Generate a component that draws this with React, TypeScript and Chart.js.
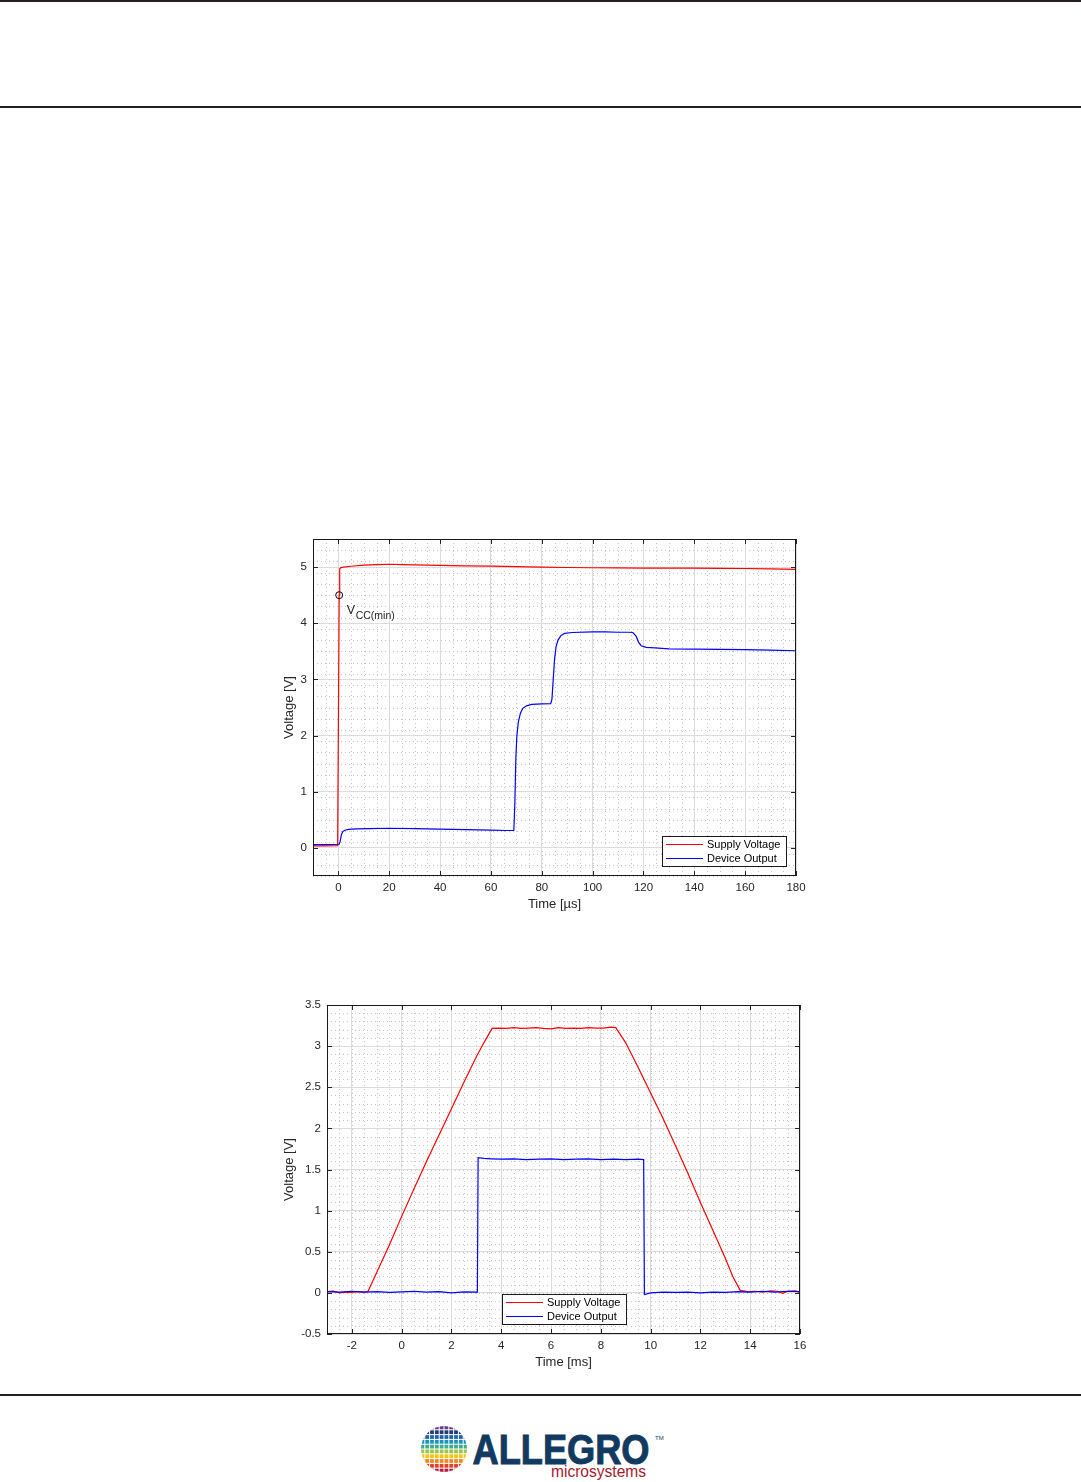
import React, { useEffect, useRef } from 'react';
import { Chart, registerables } from 'chart.js';

Chart.register(...registerables);

const FONT = '"Liberation Sans", Arial, Helvetica, sans-serif';
const INK = '#262626';
const RED = '#ff0000';
const BLUE = '#0000ff';

const SERIES_LABELS = ['Supply Voltage', 'Device Output'];

// ---------- Chart 1: power-on, time in µs ----------
const T1_SUPPLY = [-10, -5, -0.3, 0.1, 0.3, 0.5, 1, 2, 5, 10, 15, 20, 25, 30, 40, 50, 60, 70, 80, 90, 100, 110, 120, 130, 140, 150, 160, 170, 180];
const V1_SUPPLY = [0.035, 0.035, 0.04, 3.0, 4.5, 4.97, 4.99, 5.0, 5.015, 5.035, 5.045, 5.05, 5.045, 5.04, 5.03, 5.022, 5.017, 5.008, 5.0, 4.993, 4.988, 4.985, 4.982, 4.981, 4.98, 4.977, 4.975, 4.968, 4.958];
const T1_OUTPUT = [-10, -5, 0.3, 0.7, 1.2, 1.7, 2.5, 4, 7, 12, 20, 30, 40, 50, 60, 66, 69.0, 69.4, 69.8, 70.2, 70.8, 71.6, 72.6, 74, 76, 80, 83.5, 84.0, 84.5, 85.0, 85.6, 86.4, 87.5, 89, 92, 100, 105, 110, 114, 115.8, 117.1, 118.1, 119.1, 121.1, 124.5, 130, 140, 150, 160, 170, 180];
const V1_OUTPUT = [0.06, 0.06, 0.065, 0.12, 0.24, 0.29, 0.315, 0.33, 0.34, 0.345, 0.35, 0.345, 0.335, 0.325, 0.315, 0.31, 0.31, 0.8, 1.6, 2.0, 2.25, 2.4, 2.49, 2.53, 2.555, 2.565, 2.57, 2.65, 3.0, 3.35, 3.58, 3.7, 3.78, 3.82, 3.835, 3.845, 3.845, 3.84, 3.84, 3.835, 3.77, 3.66, 3.6, 3.57, 3.56, 3.545, 3.54, 3.535, 3.53, 3.52, 3.51];
const X1_TICKS = [0, 20, 40, 60, 80, 100, 120, 140, 160, 180];
const Y1_TICKS = [0, 1, 2, 3, 4, 5];
const VCC_MIN_T = [0.3];
const VCC_MIN_V = [4.5];

// ---------- Chart 2: slow ramp, time in ms ----------
const T2_SUPPLY = [-3, -2.75, -2.5, -2.25, -2.0, -1.75, -1.5, -1.35, -1.0, -0.5, 0, 0.5, 1, 1.5, 2, 2.5, 3, 3.3, 3.63, 3.9, 4.2, 4.5, 4.8, 5.1, 5.4, 5.7, 6.0, 6.3, 6.6, 6.9, 7.2, 7.5, 7.8, 8.1, 8.4, 8.6, 9.0, 9.5, 10, 10.5, 11, 11.5, 12, 12.5, 13, 13.3, 13.6, 13.9, 14.2, 14.5, 14.8, 15.1, 15.3, 15.5, 15.8, 16];
const V2_SUPPLY = [0.015, 0.02, 0.0, 0.01, 0.005, 0.015, 0.01, 0.02, 0.25, 0.58, 0.93, 1.27, 1.6, 1.92, 2.24, 2.56, 2.87, 3.04, 3.215, 3.22, 3.215, 3.225, 3.215, 3.22, 3.225, 3.215, 3.21, 3.225, 3.215, 3.22, 3.215, 3.225, 3.22, 3.22, 3.23, 3.225, 3.04, 2.74, 2.43, 2.12, 1.79, 1.45, 1.1, 0.76, 0.42, 0.2, 0.03, 0.015, 0.02, 0.01, 0.025, 0.02, -0.005, 0.02, 0.025, 0.01];
const T2_OUTPUT = [-3, -2.5, -2, -1.5, -1, -0.5, 0, 0.5, 1, 1.5, 2, 2.5, 3.04, 3.07, 3.3, 3.6, 4, 4.5, 5, 5.5, 6, 6.5, 7, 7.5, 8, 8.5, 9, 9.5, 9.72, 9.75, 10, 10.5, 11, 11.5, 12, 12.5, 13, 13.5, 14, 14.5, 15, 15.5, 16];
const V2_OUTPUT = [0.015, 0.01, 0.02, 0.01, 0.015, 0.005, 0.012, 0.02, 0.008, 0.015, 0.0, 0.012, 0.01, 1.645, 1.635, 1.63, 1.625, 1.63, 1.62, 1.625, 1.63, 1.62, 1.625, 1.63, 1.62, 1.625, 1.62, 1.625, 1.62, -0.02, 0.0, 0.01, 0.005, 0.01, 0.0, 0.01, 0.005, 0.015, 0.01, 0.02, 0.01, 0.02, 0.015];
const X2_TICKS = [-2, 0, 2, 4, 6, 8, 10, 12, 14, 16];
const Y2_TICKS = [-0.5, 0, 0.5, 1, 1.5, 2, 2.5, 3, 3.5];

const pts = (t: number[], v: number[]) => t.map((x, i) => ({ x, y: v[i] }));

const framePlugin = {
  id: 'matFrame',
  beforeDraw(chart: any, _args: any, o: any) {
    const { ctx, chartArea: a } = chart;
    const xs = chart.scales.x;
    const ys = chart.scales.y;
    ctx.save();
    ctx.strokeStyle = '#c4c4c4';
    ctx.lineWidth = 1;
    ctx.setLineDash([1, 3]);
    ctx.beginPath();
    for (let k = 0; ; k++) {
      const v = xs.min + k * o.xMinor;
      if (v > xs.max + 1e-9) break;
      const p = Math.round(xs.getPixelForValue(v)) + 0.5;
      ctx.moveTo(p, a.top);
      ctx.lineTo(p, a.bottom);
    }
    for (let k = 0; ; k++) {
      const v = ys.min + k * o.yMinor;
      if (v > ys.max + 1e-9) break;
      const p = Math.round(ys.getPixelForValue(v)) + 0.5;
      ctx.moveTo(a.left, p);
      ctx.lineTo(a.right, p);
    }
    ctx.stroke();
    ctx.restore();
  },
  afterDraw(chart: any, _args: any, o: any) {
    const { ctx, chartArea: a } = chart;
    const xs = chart.scales.x;
    const ys = chart.scales.y;
    const L = o.tickLen;
    ctx.save();
    ctx.setLineDash([]);
    // inner tick marks
    ctx.strokeStyle = INK;
    ctx.lineWidth = 1;
    ctx.beginPath();
    xs.ticks.forEach((t: any) => {
      const p = Math.round(xs.getPixelForValue(t.value)) + 0.5;
      ctx.moveTo(p, a.bottom);
      ctx.lineTo(p, a.bottom - L);
      ctx.moveTo(p, a.top);
      ctx.lineTo(p, a.top + L);
    });
    ys.ticks.forEach((t: any) => {
      const p = Math.round(ys.getPixelForValue(t.value)) + 0.5;
      ctx.moveTo(a.left, p);
      ctx.lineTo(a.left + L, p);
      ctx.moveTo(a.right, p);
      ctx.lineTo(a.right - L, p);
    });
    ctx.stroke();
    // box
    const l = Math.round(a.left) + 0.5;
    const t = Math.round(a.top) + 0.5;
    const r = Math.round(a.right) - 0.5;
    const b = Math.round(a.bottom) - 0.5;
    ctx.strokeStyle = '#1a1a1a';
    ctx.strokeRect(l, t, r - l, b - t);

    // annotation (VCC(min))
    if (o.note) {
      const px = xs.getPixelForValue(o.note.x);
      const py = ys.getPixelForValue(o.note.y);
      ctx.fillStyle = INK;
      ctx.textBaseline = 'alphabetic';
      ctx.textAlign = 'left';
      ctx.font = `12.5px ${FONT}`;
      ctx.fillText(o.note.main, px + 7.5, py + 19);
      ctx.font = `10.5px ${FONT}`;
      ctx.fillText(o.note.sub, px + 16.5, py + 23.5);
    }

    // legend
    const items = chart.data.datasets.filter((d: any) => d.inLegend);
    const w = 124;
    const h = 30;
    const bx = o.legendPos === 'se' ? Math.round(a.right) - 10 - w : Math.round((a.left + a.right) / 2 - w / 2);
    const by = Math.round(a.bottom) - 10 - h;
    ctx.fillStyle = '#ffffff';
    ctx.fillRect(bx, by, w, h);
    ctx.strokeStyle = '#1a1a1a';
    ctx.lineWidth = 1;
    ctx.strokeRect(bx + 0.5, by + 0.5, w, h);
    ctx.font = `11px ${FONT}`;
    ctx.textBaseline = 'middle';
    ctx.textAlign = 'left';
    items.forEach((d: any, i: number) => {
      const cy = by + 8 + i * 14;
      ctx.strokeStyle = d.borderColor;
      ctx.lineWidth = 1.2;
      ctx.beginPath();
      ctx.moveTo(bx + 4, cy + 0.5);
      ctx.lineTo(bx + 41, cy + 0.5);
      ctx.stroke();
      ctx.fillStyle = '#000';
      ctx.fillText(d.label, bx + 45, cy + 1);
    });
    ctx.restore();
  },
};

type Cfg = {
  datasets: any[];
  xMin: number; xMax: number; yMin: number; yMax: number;
  xTicks: number[]; yTicks: number[];
  xTitle: string; yTitle: string;
  yAxisW: number; xAxisH: number;
  padding: any;
  xMinor: number; yMinor: number;
  legendPos: string;
  note?: any;
};

function buildConfig(c: Cfg): any {
  const tickFont = { family: FONT, size: 11.5 };
  const titleFont = { family: FONT, size: 13 };
  return {
    type: 'line',
    data: { datasets: c.datasets },
    plugins: [framePlugin],
    options: {
      animation: false,
      responsive: true,
      maintainAspectRatio: false,
      devicePixelRatio: 1,
      parsing: true,
      layout: { padding: c.padding },
      elements: { point: { radius: 0 }, line: { tension: 0 } },
      plugins: {
        legend: { display: false },
        tooltip: { enabled: false },
        matFrame: { xMinor: c.xMinor, yMinor: c.yMinor, tickLen: 5, legendPos: c.legendPos, note: c.note },
      },
      scales: {
        x: {
          type: 'linear',
          min: c.xMin,
          max: c.xMax,
          afterBuildTicks: (s: any) => { s.ticks = c.xTicks.map((v) => ({ value: v })); },
          afterFit: (s: any) => { s.height = c.xAxisH; },
          ticks: { autoSkip: false, maxRotation: 0, padding: 5, color: INK, font: tickFont, callback: (v: any) => String(v) },
          grid: { color: '#dcdcdc', lineWidth: 1, drawTicks: false },
          border: { display: false },
          title: { display: true, text: c.xTitle, color: INK, font: titleFont, padding: { top: 0, bottom: 13 } },
        },
        y: {
          type: 'linear',
          min: c.yMin,
          max: c.yMax,
          afterBuildTicks: (s: any) => { s.ticks = c.yTicks.map((v) => ({ value: v })); },
          afterFit: (s: any) => { s.width = c.yAxisW; },
          ticks: { autoSkip: false, padding: 6, color: INK, font: tickFont, callback: (v: any) => String(v) },
          grid: { color: '#dcdcdc', lineWidth: 1, drawTicks: false },
          border: { display: false },
          title: { display: true, text: c.yTitle, color: INK, font: titleFont, padding: { top: 19, bottom: 0 } },
        },
      },
    },
  };
}

function seriesSet(supply: any[], output: any[]) {
  return [
    { label: SERIES_LABELS[0], data: supply, borderColor: RED, borderWidth: 1.2, pointRadius: 0, order: 2, inLegend: true },
    { label: SERIES_LABELS[1], data: output, borderColor: BLUE, borderWidth: 1.2, pointRadius: 0, order: 1, inLegend: true },
  ];
}

function config1() {
  return buildConfig({
    datasets: [
      ...seriesSet(pts(T1_SUPPLY, V1_SUPPLY), pts(T1_OUTPUT, V1_OUTPUT)),
      {
        label: 'VCC(min)',
        data: pts(VCC_MIN_T, VCC_MIN_V),
        showLine: false,
        pointRadius: 3.5,
        pointHoverRadius: 3.5,
        pointBorderColor: '#000',
        pointBackgroundColor: 'rgba(0,0,0,0)',
        pointBorderWidth: 1,
        order: 0,
        inLegend: false,
      },
    ],
    xMin: -10, xMax: 180, yMin: -0.5, yMax: 5.5,
    xTicks: X1_TICKS, yTicks: Y1_TICKS,
    xTitle: 'Time [µs]', yTitle: 'Voltage [V]',
    yAxisW: 50, xAxisH: 49,
    padding: { left: 0, top: 14, right: 17, bottom: 0 },
    xMinor: 5, yMinor: 0.2,
    legendPos: 'se',
    note: { x: VCC_MIN_T[0], y: VCC_MIN_V[0], main: 'V', sub: 'CC(min)' },
  });
}

function config2() {
  return buildConfig({
    datasets: seriesSet(pts(T2_SUPPLY, V2_SUPPLY), pts(T2_OUTPUT, V2_OUTPUT)),
    xMin: -3, xMax: 16, yMin: -0.5, yMax: 3.5,
    xTicks: X2_TICKS, yTicks: Y2_TICKS,
    xTitle: 'Time [ms]', yTitle: 'Voltage [V]',
    yAxisW: 64, xAxisH: 49,
    padding: { left: 0, top: 15, right: 13, bottom: 0 },
    xMinor: 0.5, yMinor: 0.1,
    legendPos: 's',
  });
}

function Plot(props: { left: number; top: number; width: number; height: number; make: () => any }) {
  const ref = useRef<HTMLCanvasElement>(null);
  useEffect(() => {
    const chart = new Chart(ref.current as HTMLCanvasElement, props.make());
    return () => chart.destroy();
  }, []);
  return (
    <div style={{ position: 'absolute', left: props.left, top: props.top, width: props.width, height: props.height }}>
      <canvas ref={ref} />
    </div>
  );
}

const LOGO_ROWS = ['#6b3f8e', '#233b73', '#1f63a8', '#1b94b8', '#3fae8c', '#9cc64a', '#f4c414', '#f08a1f', '#e2402b', '#b5183b'];

function Logo() {
  const cells: any[] = [];
  const n = LOGO_ROWS.length;
  const size = 48 / n;
  for (let r = 0; r < n; r++) {
    for (let c = 0; c < n; c++) {
      cells.push(
        <rect key={`${r}-${c}`} x={10 + c * size + 0.5} y={10 + r * size + 0.5} width={size - 1} height={size - 1} fill={LOGO_ROWS[r]} />
      );
    }
  }
  return (
    <svg width={270} height={67} style={{ position: 'absolute', left: 410, top: 1415 }}>
      <defs>
        <clipPath id="logoClip">
          <circle cx={34} cy={34} r={23} />
        </clipPath>
      </defs>
      <g clipPath="url(#logoClip)">{cells}</g>
      <text x={62.5} y={49} fontFamily={FONT} fontWeight="bold" fontSize={42} fill="#123a61" stroke="#123a61" strokeWidth={1} textLength={177} lengthAdjust="spacingAndGlyphs">ALLEGRO</text>
      <text x={245} y={25} fontFamily={FONT} fontSize={6} fill="#123a61">TM</text>
      <text x={141} y={62} fontFamily={FONT} fontSize={16.5} fill="#a6192e" textLength={95} lengthAdjust="spacingAndGlyphs">microsystems</text>
    </svg>
  );
}

export default function App() {
  return (
    <div style={{ position: 'absolute', left: 0, top: 0, width: 1081, height: 1482, background: '#ffffff', overflow: 'hidden' }}>
      <div style={{ position: 'absolute', left: 0, top: 0, width: 1081, height: 2, background: '#231f20' }} />
      <div style={{ position: 'absolute', left: 0, top: 106, width: 1081, height: 2, background: '#231f20' }} />
      <Plot left={263} top={525} width={550} height={400} make={config1} />
      <Plot left={263} top={990} width={550} height={393} make={config2} />
      <div style={{ position: 'absolute', left: 0, top: 1394, width: 1081, height: 2, background: '#231f20' }} />
      <Logo />
    </div>
  );
}
